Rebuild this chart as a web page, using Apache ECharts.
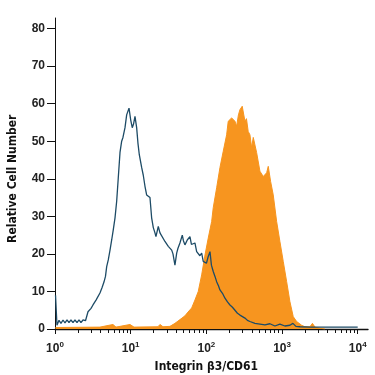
<!DOCTYPE html>
<html>
<head>
<meta charset="utf-8">
<script src="https://cdn.jsdelivr.net/npm/echarts@6/dist/echarts.min.js"></script>
<style>
  html, body { margin: 0; padding: 0; background: #ffffff; }
  #chart { width: 375px; height: 375px; }
</style>
</head>
<body>
<div id="chart"></div>
<script>
// histogram channels are given as log10 exponents, counts as relative cell number
const isoExp = [0.007, 0.026, 0.053, 0.079, 0.106, 0.132, 0.159, 0.185, 0.211, 0.238, 0.264, 0.291, 0.317, 0.343, 0.370,
  0.403, 0.436, 0.476, 0.502, 0.542, 0.568, 0.594, 0.621, 0.647, 0.667, 0.683, 0.704, 0.727, 0.749, 0.770,
  0.793, 0.815, 0.836, 0.859, 0.881, 0.898, 0.925, 0.947, 0.964, 0.978, 1.000, 1.021, 1.037, 1.057, 1.079,
  1.096, 1.114, 1.145, 1.166, 1.189, 1.211, 1.255, 1.277, 1.299, 1.321, 1.334, 1.365, 1.387, 1.413, 1.453,
  1.497, 1.542, 1.559, 1.585, 1.608, 1.625, 1.651, 1.682, 1.697, 1.717, 1.748, 1.783, 1.803, 1.819, 1.849,
  1.872, 1.893, 1.915, 1.938, 1.959, 1.982, 2.001, 2.025, 2.048, 2.067, 2.091, 2.114, 2.136, 2.160, 2.180,
  2.213, 2.246, 2.279, 2.312, 2.345, 2.378, 2.411, 2.444, 2.477, 2.510, 2.543, 2.576, 2.642, 2.708, 2.774,
  2.840, 2.906, 2.972, 3.038, 3.104, 3.144, 3.184, 3.236, 3.369, 3.633, 4.000]
const isoCount = [9, 1, 2.3, 1.5, 2.4, 1.6, 2.4, 1.7, 2.4, 1.7, 2.4, 1.7, 2.4, 1.7, 2.4,
  2.2, 4.6, 5.5, 6.4, 7.7, 8.2, 9.6, 11, 12.5, 14, 16.6, 18.4, 21, 23.7, 26.4,
  29.6, 34, 40.2, 47, 50, 51, 53.6, 57, 57.5, 58.8, 55.7, 53.6, 54.5, 56.6, 53.6,
  49.5, 46.4, 43, 41, 38, 35.7, 35, 29.6, 27, 25.6, 24.6, 27.3, 25.6, 26, 23.3,
  22, 21, 20, 17, 20.2, 21.5, 22.9, 25, 23.5, 22.4, 23.7, 24.6, 22.5, 22, 22.9,
  20.6, 21, 19.5, 20.2, 18, 18.4, 17.5, 19.3, 20.6, 17, 15.3, 14, 12.6, 11.5, 10.4,
  9.5, 8.2, 7.2, 6.4, 5.8, 5, 4.2, 3.7, 3.3, 2.9, 2.3, 2, 1.5, 1.3, 1.1,
  1.4, 0.8, 1.3, 0.8, 1.0, 1.5, 0.7, 0.6, 0.5, 0.5, 0.5]

const cd61Exp = [0.007, 0.594, 0.766, 0.806, 0.991, 1.044, 1.361, 1.387, 1.427, 1.519, 1.585, 1.651, 1.717, 1.757,
  1.806, 1.849, 1.893, 1.938, 1.982, 2.025, 2.070, 2.091, 2.136, 2.180, 2.223, 2.268, 2.289, 2.334, 2.378,
  2.400, 2.424, 2.444, 2.474, 2.510, 2.530, 2.553, 2.576, 2.598, 2.620, 2.664, 2.708, 2.752, 2.797, 2.818,
  2.849, 2.884, 2.929, 2.972, 3.016, 3.061, 3.104, 3.148, 3.193, 3.259, 3.302, 3.369, 3.402, 3.435, 3.501, 3.567]
const cd61Count = [0.4, 0.5, 1.2, 0.5, 1.2, 0.5, 0.6, 1.2, 0.6, 0.7, 1.5, 2.5, 3.5, 4.5,
  5.6, 7.7, 10, 14.4, 19.7, 24.2, 28.6, 32.3, 37.6, 43, 47.3, 51.7, 55.3, 56.2, 55.3,
  54, 57, 58.4, 59.3, 55.3, 56, 52.6, 51.7, 48.3, 51, 47, 42, 40.6, 41.6, 43.3,
  39.3, 35.7, 28.6, 23.3, 18, 12.6, 7.3, 3.3, 2, 1, 0.6, 0.6, 1.5, 0.5, 0.2, 0]

const yTicks = [0, 10, 20, 30, 40, 50, 60, 70, 80]
const xDecades = [1, 10, 100, 1000, 10000]

const toPoints = (exps, counts) => exps.map((e, i) => [Math.pow(10, e), counts[i]])

const chart = echarts.init(document.getElementById('chart'), null, { renderer: 'canvas' })

const labelFont = '"Liberation Sans", Arial, sans-serif'
const titleFont = '"Liberation Sans Narrow", "Arial Narrow", "DejaVu Sans Condensed", sans-serif'

const option = {
  animation: false,
  backgroundColor: '#ffffff',
  grid: [
    { left: 55, right: 17.3, top: 28.5, bottom: 46, outerBoundsMode: 'none', containLabel: false },
    { left: 55, right: 7, top: 18, bottom: 46, outerBoundsMode: 'none', containLabel: false }
  ],
  xAxis: [
    {
      type: 'log',
      logBase: 10,
      gridIndex: 0,
      min: xDecades[0],
      max: xDecades[xDecades.length - 1],
      name: 'Integrin β3/CD61',
      nameLocation: 'middle',
      nameGap: 32,
      nameTextStyle: { fontFamily: titleFont, fontWeight: 'bold', fontSize: 12, color: '#111' },
      axisLine: { show: false },
      axisTick: { show: true, length: 5, lineStyle: { color: '#111', width: 1 } },
      minorTick: { show: true, splitNumber: 9, length: 4, lineStyle: { color: '#111', width: 1 } },
      splitLine: { show: false },
      minorSplitLine: { show: false },
      axisLabel: {
        margin: 12,
        fontFamily: labelFont,
        fontSize: 12,
        fontWeight: 'bold',
        color: '#222',
        formatter: v => {
          const e = Math.round(Math.log10(v))
          if (xDecades.indexOf(v) < 0) return ''
          return '10{s|' + e + '}'
        },
        rich: {
          s: { fontSize: 8, fontWeight: 'bold', fontFamily: labelFont, color: '#222', padding: [0, 0, 7, 0] }
        }
      }
    },
    {
      type: 'value', gridIndex: 1, min: 0, max: 1,
      axisLine: { show: true, lineStyle: { color: '#111', width: 1.4 } },
      axisTick: { show: false }, axisLabel: { show: false }, splitLine: { show: false }
    }
  ],
  yAxis: [
    {
      type: 'value',
      gridIndex: 0,
      min: yTicks[0],
      max: yTicks[yTicks.length - 1],
      interval: 10,
      name: 'Relative Cell Number',
      nameLocation: 'middle',
      nameGap: 36,
      nameTextStyle: { fontFamily: titleFont, fontWeight: 'bold', fontSize: 12, color: '#111' },
      axisLine: { show: false },
      axisTick: { show: true, length: 8, lineStyle: { color: '#111', width: 1 } },
      splitLine: { show: false },
      axisLabel: { margin: 10, fontFamily: labelFont, fontSize: 12, fontWeight: 'bold', color: '#222' }
    },
    {
      type: 'value', gridIndex: 1, min: 0, max: 1,
      axisLine: { show: true, lineStyle: { color: '#111', width: 1 } },
      axisTick: { show: false }, axisLabel: { show: false }, splitLine: { show: false }
    }
  ],
  series: [
    {
      name: 'CD61',
      type: 'line',
      xAxisIndex: 0,
      yAxisIndex: 0,
      data: toPoints(cd61Exp, cd61Count),
      symbol: 'none',
      lineStyle: { color: '#f7951f', width: 1 },
      areaStyle: { color: '#f7951f', opacity: 1 },
      z: 2
    },
    {
      name: 'Isotype',
      type: 'line',
      xAxisIndex: 0,
      yAxisIndex: 0,
      data: toPoints(isoExp, isoCount),
      symbol: 'none',
      lineStyle: { color: '#1d4b66', width: 1.3 },
      z: 3
    }
  ]
}

chart.setOption(option)
</script>
</body>
</html>
